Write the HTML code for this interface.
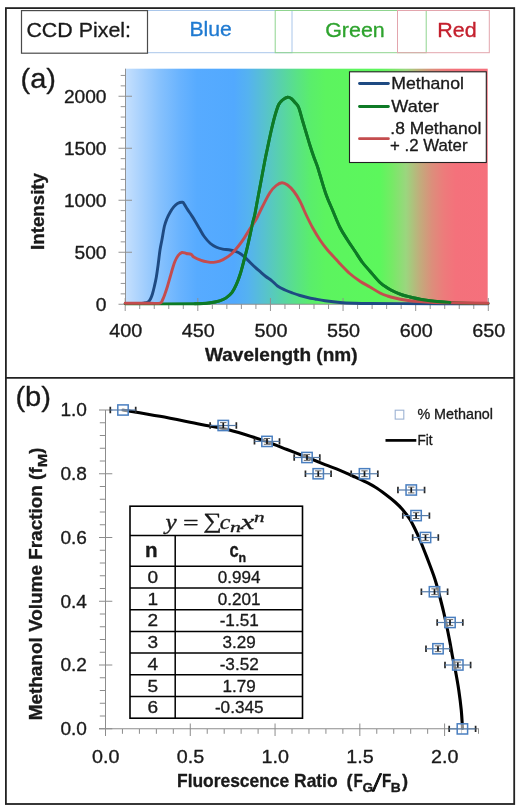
<!DOCTYPE html>
<html lang="en"><head><meta charset="utf-8"><title>Fluorescence figure</title>
<style>html,body{margin:0;padding:0;background:#fff;}svg{display:block;}text{font-family:"Liberation Sans", sans-serif;fill:#1a1a1a;stroke:#1a1a1a;stroke-width:.32px;stroke-linejoin:round;}</style>
</head><body>
<svg width="520" height="805" viewBox="0 0 520 805">
<defs><linearGradient id="spec" x1="125.2" x2="488.3" y1="0" y2="0" gradientUnits="userSpaceOnUse">
<stop offset="0.0000" stop-color="#c6e0fd"/>
<stop offset="0.0408" stop-color="#aad2fd"/>
<stop offset="0.0958" stop-color="#86c1fd"/>
<stop offset="0.1509" stop-color="#69b3fe"/>
<stop offset="0.1977" stop-color="#57abff"/>
<stop offset="0.2996" stop-color="#52a9fe"/>
<stop offset="0.3382" stop-color="#55b2f0"/>
<stop offset="0.3823" stop-color="#57c1d0"/>
<stop offset="0.4263" stop-color="#58d1ac"/>
<stop offset="0.4704" stop-color="#59e188"/>
<stop offset="0.5117" stop-color="#5aee6b"/>
<stop offset="0.5530" stop-color="#5cf45f"/>
<stop offset="0.7017" stop-color="#5cf75c"/>
<stop offset="0.7348" stop-color="#76ea66"/>
<stop offset="0.7733" stop-color="#9bd67e"/>
<stop offset="0.8119" stop-color="#c2ac7c"/>
<stop offset="0.8449" stop-color="#dc8e7b"/>
<stop offset="0.8780" stop-color="#ed7b7b"/>
<stop offset="0.9110" stop-color="#f4717b"/>
<stop offset="1.0000" stop-color="#f5707c"/>
</linearGradient></defs>
<rect x="0" y="0" width="520" height="805" fill="#fff"/>
<g fill="none" stroke-width="1">
<rect x="147.5" y="10.5" width="144.5" height="42.2" stroke="#a9c6ea"/>
<rect x="275.2" y="10.5" width="151" height="42.2" stroke="#8fd48f"/>
<rect x="397.5" y="10.5" width="91.8" height="42.2" stroke="#e3a5ad"/>
<rect x="21.5" y="10.6" width="126" height="42.6" stroke="#4a4a4a" stroke-width="1.2" fill="#fff"/>
</g>
<text x="26.4" y="36.6" font-size="21.1" fill="#111" textLength="104.6" lengthAdjust="spacingAndGlyphs">CCD Pixel:</text>
<text x="189.4" y="36.4" font-size="20.6" style="fill:#1f7ad1;stroke:#1f7ad1" textLength="42.4" lengthAdjust="spacingAndGlyphs">Blue</text>
<text x="325.2" y="36.6" font-size="20.6" style="fill:#2ea32e;stroke:#2ea32e" textLength="59.6" lengthAdjust="spacingAndGlyphs">Green</text>
<text x="437.2" y="36.6" font-size="20.6" style="fill:#c4202e;stroke:#c4202e" textLength="39.4" lengthAdjust="spacingAndGlyphs">Red</text>
<rect x="125.20" y="68.7" width="362.50" height="235.55" fill="url(#spec)"/>
<g stroke="#8e8e8e" stroke-width="0.95" fill="none">
<line x1="125.50" y1="68.7" x2="125.50" y2="304.25"/>
<line x1="125.20" y1="304.25" x2="488.30" y2="304.25"/>
<line x1="118.5" y1="304.25" x2="132" y2="304.25"/>
<line x1="120.7" y1="293.85" x2="125.5" y2="293.85"/>
<line x1="120.7" y1="283.45" x2="125.5" y2="283.45"/>
<line x1="120.7" y1="273.05" x2="125.5" y2="273.05"/>
<line x1="120.7" y1="262.65" x2="125.5" y2="262.65"/>
<line x1="118.5" y1="252.25" x2="132" y2="252.25"/>
<line x1="120.7" y1="241.85" x2="125.5" y2="241.85"/>
<line x1="120.7" y1="231.45" x2="125.5" y2="231.45"/>
<line x1="120.7" y1="221.05" x2="125.5" y2="221.05"/>
<line x1="120.7" y1="210.65" x2="125.5" y2="210.65"/>
<line x1="118.5" y1="200.25" x2="132" y2="200.25"/>
<line x1="120.7" y1="189.85" x2="125.5" y2="189.85"/>
<line x1="120.7" y1="179.45" x2="125.5" y2="179.45"/>
<line x1="120.7" y1="169.05" x2="125.5" y2="169.05"/>
<line x1="120.7" y1="158.65" x2="125.5" y2="158.65"/>
<line x1="118.5" y1="148.25" x2="132" y2="148.25"/>
<line x1="120.7" y1="137.85" x2="125.5" y2="137.85"/>
<line x1="120.7" y1="127.45" x2="125.5" y2="127.45"/>
<line x1="120.7" y1="117.05" x2="125.5" y2="117.05"/>
<line x1="120.7" y1="106.65" x2="125.5" y2="106.65"/>
<line x1="118.5" y1="96.25" x2="132" y2="96.25"/>
<line x1="120.7" y1="85.85" x2="125.5" y2="85.85"/>
<line x1="120.7" y1="75.45" x2="125.5" y2="75.45"/>
<line x1="125.20" y1="298" x2="125.20" y2="311"/>
<line x1="139.72" y1="304" x2="139.72" y2="309"/>
<line x1="154.25" y1="304" x2="154.25" y2="309"/>
<line x1="168.77" y1="304" x2="168.77" y2="309"/>
<line x1="183.30" y1="304" x2="183.30" y2="309"/>
<line x1="197.82" y1="298" x2="197.82" y2="311"/>
<line x1="212.34" y1="304" x2="212.34" y2="309"/>
<line x1="226.87" y1="304" x2="226.87" y2="309"/>
<line x1="241.39" y1="304" x2="241.39" y2="309"/>
<line x1="255.92" y1="304" x2="255.92" y2="309"/>
<line x1="270.44" y1="298" x2="270.44" y2="311"/>
<line x1="284.96" y1="304" x2="284.96" y2="309"/>
<line x1="299.49" y1="304" x2="299.49" y2="309"/>
<line x1="314.01" y1="304" x2="314.01" y2="309"/>
<line x1="328.54" y1="304" x2="328.54" y2="309"/>
<line x1="343.06" y1="298" x2="343.06" y2="311"/>
<line x1="357.58" y1="304" x2="357.58" y2="309"/>
<line x1="372.11" y1="304" x2="372.11" y2="309"/>
<line x1="386.63" y1="304" x2="386.63" y2="309"/>
<line x1="401.16" y1="304" x2="401.16" y2="309"/>
<line x1="415.68" y1="298" x2="415.68" y2="311"/>
<line x1="430.20" y1="304" x2="430.20" y2="309"/>
<line x1="444.73" y1="304" x2="444.73" y2="309"/>
<line x1="459.25" y1="304" x2="459.25" y2="309"/>
<line x1="473.78" y1="304" x2="473.78" y2="309"/>
<line x1="488.30" y1="298" x2="488.30" y2="311"/>
</g>
<g fill="none" stroke-width="2.9" stroke-linejoin="round" stroke-linecap="round">
<path stroke="#1e4a82" d="M125.20,303.60C127.33,303.58 134.91,303.58 138.00,303.50C141.09,303.42 142.07,303.37 143.75,303.10C145.43,302.83 146.96,302.62 148.10,301.90C149.24,301.17 149.87,300.11 150.60,298.75C151.33,297.39 151.87,295.83 152.50,293.75C153.13,291.67 153.78,288.96 154.40,286.25C155.03,283.54 155.63,281.04 156.25,277.50C156.87,273.96 157.47,269.58 158.10,265.00C158.72,260.42 159.37,254.17 160.00,250.00C160.63,245.83 161.17,243.96 161.90,240.00C162.63,236.04 163.57,229.79 164.40,226.25C165.23,222.71 165.97,221.04 166.90,218.75C167.83,216.46 168.86,214.47 170.00,212.50C171.14,210.53 172.50,208.40 173.75,206.90C175.00,205.40 176.04,204.28 177.50,203.50C178.96,202.72 181.35,202.10 182.50,202.25C183.65,202.40 183.57,203.21 184.40,204.40C185.23,205.59 186.36,207.63 187.50,209.40C188.64,211.17 190.00,213.08 191.25,215.00C192.50,216.92 193.61,218.60 195.00,220.90C196.39,223.20 198.07,226.20 199.60,228.80C201.13,231.40 202.40,234.05 204.20,236.50C206.00,238.95 208.35,241.70 210.40,243.50C212.45,245.30 214.45,246.35 216.50,247.30C218.55,248.25 220.65,248.78 222.70,249.20C224.75,249.62 226.75,249.47 228.80,249.80C230.85,250.13 232.93,250.47 235.00,251.20C237.07,251.93 239.15,252.80 241.20,254.20C243.25,255.60 245.25,257.67 247.30,259.60C249.35,261.53 251.45,263.87 253.50,265.80C255.55,267.73 257.55,269.42 259.60,271.20C261.65,272.98 263.75,274.90 265.80,276.50C267.85,278.10 269.95,279.22 271.90,280.80C273.85,282.38 275.32,284.47 277.50,286.00C279.68,287.53 282.50,288.83 285.00,290.00C287.50,291.17 290.00,292.08 292.50,293.00C295.00,293.92 297.50,294.75 300.00,295.50C302.50,296.25 305.00,296.92 307.50,297.50C310.00,298.08 312.08,298.46 315.00,299.00C317.92,299.54 320.83,300.17 325.00,300.75C329.17,301.33 335.00,302.08 340.00,302.50C345.00,302.92 350.00,303.08 355.00,303.25C360.00,303.42 362.50,303.44 370.00,303.50C377.50,303.56 388.33,303.57 400.00,303.60C411.67,303.63 425.33,303.68 440.00,303.70C454.67,303.72 480.00,303.70 488.00,303.70"/>
<path stroke="#0e7a26" d="M125.20,303.80C136.83,303.80 180.80,303.98 195.00,303.80C209.20,303.62 206.30,303.20 210.40,302.70C214.50,302.20 217.03,301.57 219.60,300.80C222.17,300.03 223.75,299.45 225.80,298.10C227.85,296.75 230.12,295.02 231.90,292.70C233.68,290.38 235.08,287.40 236.50,284.20C237.92,281.00 239.12,277.60 240.40,273.50C241.68,269.40 243.05,263.97 244.20,259.60C245.35,255.23 246.27,251.65 247.30,247.30C248.33,242.95 249.50,237.60 250.40,233.50C251.30,229.40 251.98,225.78 252.70,222.70C253.42,219.62 253.90,218.78 254.70,215.00C255.50,211.22 256.41,205.83 257.50,200.00C258.59,194.17 260.00,186.67 261.25,180.00C262.50,173.33 263.96,165.33 265.00,160.00C266.04,154.67 266.46,152.92 267.50,148.00C268.54,143.08 270.00,135.92 271.25,130.50C272.50,125.08 273.75,119.83 275.00,115.50C276.25,111.17 277.50,107.08 278.75,104.50C280.00,101.92 281.04,101.22 282.50,100.00C283.96,98.78 286.04,97.45 287.50,97.20C288.96,96.95 290.00,97.62 291.25,98.50C292.50,99.38 293.75,100.96 295.00,102.50C296.25,104.04 297.50,104.75 298.75,107.75C300.00,110.75 301.25,116.29 302.50,120.50C303.75,124.71 305.00,128.83 306.25,133.00C307.50,137.17 308.75,141.54 310.00,145.50C311.25,149.46 312.50,153.21 313.75,156.75C315.00,160.29 316.46,163.71 317.50,166.75C318.54,169.79 318.54,170.29 320.00,175.00C321.46,179.71 324.17,189.17 326.25,195.00C328.33,200.83 330.21,204.58 332.50,210.00C334.79,215.42 337.50,222.50 340.00,227.50C342.50,232.50 345.00,236.04 347.50,240.00C350.00,243.96 352.50,247.50 355.00,251.25C357.50,255.00 360.00,259.17 362.50,262.50C365.00,265.83 367.08,267.92 370.00,271.25C372.92,274.58 377.08,279.71 380.00,282.50C382.92,285.29 385.00,286.42 387.50,288.00C390.00,289.58 392.50,290.83 395.00,292.00C397.50,293.17 400.00,294.17 402.50,295.00C405.00,295.83 407.08,296.29 410.00,297.00C412.92,297.71 416.67,298.62 420.00,299.25C423.33,299.88 426.67,300.33 430.00,300.75C433.33,301.17 436.67,301.46 440.00,301.75C443.33,302.04 445.83,302.26 450.00,302.50C454.17,302.74 458.67,303.02 465.00,303.20C471.33,303.38 484.17,303.53 488.00,303.60"/>
<path stroke="#c44c4e" d="M125.20,303.30C129.33,303.30 144.20,303.33 150.00,303.30C155.80,303.27 157.92,303.65 160.00,303.10C162.08,302.55 161.67,301.56 162.50,300.00C163.33,298.44 164.17,296.04 165.00,293.75C165.83,291.46 166.67,288.96 167.50,286.25C168.33,283.54 169.17,280.42 170.00,277.50C170.83,274.58 171.67,271.46 172.50,268.75C173.33,266.04 174.07,263.44 175.00,261.25C175.93,259.06 176.95,257.06 178.10,255.60C179.25,254.14 180.54,252.85 181.90,252.50C183.26,252.15 184.69,253.18 186.25,253.50C187.81,253.82 190.00,253.82 191.25,254.40C192.50,254.98 192.09,256.00 193.75,257.00C195.41,258.00 198.94,259.58 201.20,260.40C203.46,261.22 205.25,261.57 207.30,261.90C209.35,262.23 211.45,262.52 213.50,262.40C215.55,262.28 217.55,261.92 219.60,261.20C221.65,260.48 223.75,259.38 225.80,258.10C227.85,256.82 229.85,255.43 231.90,253.50C233.95,251.57 236.05,249.07 238.10,246.50C240.15,243.93 242.15,241.17 244.20,238.10C246.25,235.03 248.35,231.32 250.40,228.10C252.45,224.88 254.48,222.40 256.50,218.80C258.52,215.20 260.25,210.88 262.50,206.50C264.75,202.12 267.71,196.00 270.00,192.50C272.29,189.00 274.25,187.13 276.25,185.50C278.25,183.87 280.12,182.78 282.00,182.70C283.88,182.62 285.54,183.57 287.50,185.00C289.46,186.43 291.67,188.54 293.75,191.25C295.83,193.96 297.92,197.29 300.00,201.25C302.08,205.21 304.17,210.62 306.25,215.00C308.33,219.38 310.21,223.33 312.50,227.50C314.79,231.67 317.50,236.25 320.00,240.00C322.50,243.75 324.79,246.75 327.50,250.00C330.21,253.25 334.17,257.21 336.25,259.50C338.33,261.79 337.71,261.38 340.00,263.75C342.29,266.12 346.67,270.83 350.00,273.75C353.33,276.67 356.67,279.04 360.00,281.25C363.33,283.46 366.67,285.04 370.00,287.00C373.33,288.96 377.08,291.50 380.00,293.00C382.92,294.50 385.00,295.17 387.50,296.00C390.00,296.83 392.08,297.33 395.00,298.00C397.92,298.67 401.67,299.46 405.00,300.00C408.33,300.54 410.83,300.88 415.00,301.25C419.17,301.62 424.17,302.00 430.00,302.25C435.83,302.50 440.33,302.58 450.00,302.75C459.67,302.92 481.67,303.17 488.00,303.25"/>
<path stroke="#0e7a26" d="M195.00,303.80C197.57,303.62 206.30,303.20 210.40,302.70C214.50,302.20 217.03,301.57 219.60,300.80C222.17,300.03 223.75,299.45 225.80,298.10C227.85,296.75 230.12,295.02 231.90,292.70C233.68,290.38 235.08,287.40 236.50,284.20C237.92,281.00 239.12,277.60 240.40,273.50C241.68,269.40 243.05,263.97 244.20,259.60C245.35,255.23 246.27,251.65 247.30,247.30C248.33,242.95 249.50,237.60 250.40,233.50C251.30,229.40 251.98,225.78 252.70,222.70C253.42,219.62 253.90,218.78 254.70,215.00C255.50,211.22 256.41,205.83 257.50,200.00C258.59,194.17 260.00,186.67 261.25,180.00C262.50,173.33 263.96,165.33 265.00,160.00C266.04,154.67 266.46,152.92 267.50,148.00C268.54,143.08 270.00,135.92 271.25,130.50C272.50,125.08 273.75,119.83 275.00,115.50C276.25,111.17 277.50,107.08 278.75,104.50C280.00,101.92 281.04,101.22 282.50,100.00C283.96,98.78 286.04,97.45 287.50,97.20C288.96,96.95 290.00,97.62 291.25,98.50C292.50,99.38 293.75,100.96 295.00,102.50C296.25,104.04 297.50,104.75 298.75,107.75C300.00,110.75 301.25,116.29 302.50,120.50C303.75,124.71 305.00,128.83 306.25,133.00C307.50,137.17 308.75,141.54 310.00,145.50C311.25,149.46 312.50,153.21 313.75,156.75C315.00,160.29 316.46,163.71 317.50,166.75C318.54,169.79 318.54,170.29 320.00,175.00C321.46,179.71 324.17,189.17 326.25,195.00C328.33,200.83 330.21,204.58 332.50,210.00C334.79,215.42 337.50,222.50 340.00,227.50C342.50,232.50 345.00,236.04 347.50,240.00C350.00,243.96 352.50,247.50 355.00,251.25C357.50,255.00 360.00,259.17 362.50,262.50C365.00,265.83 367.08,267.92 370.00,271.25C372.92,274.58 377.08,279.71 380.00,282.50C382.92,285.29 385.00,286.42 387.50,288.00C390.00,289.58 392.50,290.83 395.00,292.00C397.50,293.17 400.00,294.17 402.50,295.00C405.00,295.83 407.08,296.29 410.00,297.00C412.92,297.71 416.67,298.62 420.00,299.25C423.33,299.88 426.67,300.33 430.00,300.75C433.33,301.17 436.67,301.46 440.00,301.75C443.33,302.04 448.33,302.38 450.00,302.50"/>
</g>
<rect x="349.5" y="71.8" width="136.8" height="90.7" fill="#fff" stroke="#222" stroke-width="1.1"/>
<g stroke-width="2.8" fill="none" stroke-linecap="round"><line x1="359.5" y1="83.5" x2="388.4" y2="83.5" stroke="#1e4a82"/><line x1="359.5" y1="106.5" x2="388.4" y2="106.5" stroke="#0e7a26"/><line x1="359.5" y1="138.7" x2="388.4" y2="138.7" stroke="#c44c4e"/></g>
<text x="391.3" y="89" font-size="16.2" textLength="72.6" lengthAdjust="spacingAndGlyphs">Methanol</text>
<text x="391.3" y="112" font-size="16.2" textLength="47.5" lengthAdjust="spacingAndGlyphs">Water</text>
<text x="390.3" y="134.2" font-size="16.2" textLength="91" lengthAdjust="spacingAndGlyphs">.8 Methanol</text>
<text x="390" y="151" font-size="16.2" textLength="77.5" lengthAdjust="spacingAndGlyphs">+ .2 Water</text>
<text x="106.5" y="310.65" font-size="17.9" text-anchor="end" textLength="10.7" lengthAdjust="spacingAndGlyphs">0</text>
<text x="106.5" y="258.65" font-size="17.9" text-anchor="end" textLength="32.0" lengthAdjust="spacingAndGlyphs">500</text>
<text x="106.5" y="206.65" font-size="17.9" text-anchor="end" textLength="42.6" lengthAdjust="spacingAndGlyphs">1000</text>
<text x="106.5" y="154.65" font-size="17.9" text-anchor="end" textLength="42.6" lengthAdjust="spacingAndGlyphs">1500</text>
<text x="106.5" y="102.65" font-size="17.9" text-anchor="end" textLength="42.6" lengthAdjust="spacingAndGlyphs">2000</text>
<text x="125.70" y="337.2" font-size="17.9" text-anchor="middle" textLength="33" lengthAdjust="spacingAndGlyphs">400</text>
<text x="198.32" y="337.2" font-size="17.9" text-anchor="middle" textLength="33" lengthAdjust="spacingAndGlyphs">450</text>
<text x="270.94" y="337.2" font-size="17.9" text-anchor="middle" textLength="33" lengthAdjust="spacingAndGlyphs">500</text>
<text x="343.56" y="337.2" font-size="17.9" text-anchor="middle" textLength="33" lengthAdjust="spacingAndGlyphs">550</text>
<text x="416.18" y="337.2" font-size="17.9" text-anchor="middle" textLength="33" lengthAdjust="spacingAndGlyphs">600</text>
<text x="488.80" y="337.2" font-size="17.9" text-anchor="middle" textLength="33" lengthAdjust="spacingAndGlyphs">650</text>
<text x="205" y="361.3" font-size="18.2" font-weight="bold" textLength="152.6" lengthAdjust="spacingAndGlyphs" fill="#000">Wavelength (nm)</text>
<text transform="translate(44.2,250) rotate(-90)" font-size="17.6" font-weight="bold" textLength="77" lengthAdjust="spacingAndGlyphs" fill="#000">Intensity</text>
<text x="20.6" y="87.6" font-size="27.6" fill="#111" textLength="35.4" lengthAdjust="spacingAndGlyphs">(a)</text>
<rect x="5.9" y="8.1" width="508.3" height="795.9" fill="none" stroke="#222" stroke-width="1.8"/>
<line x1="5.9" y1="377.9" x2="514.2" y2="377.9" stroke="#222" stroke-width="1.6"/>
<g stroke="#8c8c8c" stroke-width="1" fill="none">
<line x1="105.50" y1="410.00" x2="105.50" y2="736"/>
<line x1="99" y1="728.75" x2="479.01" y2="728.75"/>
<line x1="99" y1="728.75" x2="112.3" y2="728.75"/>
<line x1="99.8" y1="716.00" x2="105.5" y2="716.00"/>
<line x1="99.8" y1="703.25" x2="105.5" y2="703.25"/>
<line x1="99.8" y1="690.50" x2="105.5" y2="690.50"/>
<line x1="99.8" y1="677.75" x2="105.5" y2="677.75"/>
<line x1="99" y1="665.00" x2="112.3" y2="665.00"/>
<line x1="99.8" y1="652.25" x2="105.5" y2="652.25"/>
<line x1="99.8" y1="639.50" x2="105.5" y2="639.50"/>
<line x1="99.8" y1="626.75" x2="105.5" y2="626.75"/>
<line x1="99.8" y1="614.00" x2="105.5" y2="614.00"/>
<line x1="99" y1="601.25" x2="112.3" y2="601.25"/>
<line x1="99.8" y1="588.50" x2="105.5" y2="588.50"/>
<line x1="99.8" y1="575.75" x2="105.5" y2="575.75"/>
<line x1="99.8" y1="563.00" x2="105.5" y2="563.00"/>
<line x1="99.8" y1="550.25" x2="105.5" y2="550.25"/>
<line x1="99" y1="537.50" x2="112.3" y2="537.50"/>
<line x1="99.8" y1="524.75" x2="105.5" y2="524.75"/>
<line x1="99.8" y1="512.00" x2="105.5" y2="512.00"/>
<line x1="99.8" y1="499.25" x2="105.5" y2="499.25"/>
<line x1="99.8" y1="486.50" x2="105.5" y2="486.50"/>
<line x1="99" y1="473.75" x2="112.3" y2="473.75"/>
<line x1="99.8" y1="461.00" x2="105.5" y2="461.00"/>
<line x1="99.8" y1="448.25" x2="105.5" y2="448.25"/>
<line x1="99.8" y1="435.50" x2="105.5" y2="435.50"/>
<line x1="99.8" y1="422.75" x2="105.5" y2="422.75"/>
<line x1="99" y1="410.00" x2="112.3" y2="410.00"/>
<line x1="105.50" y1="723.5" x2="105.50" y2="736"/>
<line x1="122.45" y1="729" x2="122.45" y2="733.8"/>
<line x1="139.41" y1="729" x2="139.41" y2="733.8"/>
<line x1="156.37" y1="729" x2="156.37" y2="733.8"/>
<line x1="173.32" y1="729" x2="173.32" y2="733.8"/>
<line x1="190.28" y1="723.5" x2="190.28" y2="736"/>
<line x1="207.23" y1="729" x2="207.23" y2="733.8"/>
<line x1="224.19" y1="729" x2="224.19" y2="733.8"/>
<line x1="241.14" y1="729" x2="241.14" y2="733.8"/>
<line x1="258.10" y1="729" x2="258.10" y2="733.8"/>
<line x1="275.05" y1="723.5" x2="275.05" y2="736"/>
<line x1="292.00" y1="729" x2="292.00" y2="733.8"/>
<line x1="308.96" y1="729" x2="308.96" y2="733.8"/>
<line x1="325.92" y1="729" x2="325.92" y2="733.8"/>
<line x1="342.87" y1="729" x2="342.87" y2="733.8"/>
<line x1="359.83" y1="723.5" x2="359.83" y2="736"/>
<line x1="376.78" y1="729" x2="376.78" y2="733.8"/>
<line x1="393.74" y1="729" x2="393.74" y2="733.8"/>
<line x1="410.69" y1="729" x2="410.69" y2="733.8"/>
<line x1="427.65" y1="729" x2="427.65" y2="733.8"/>
<line x1="444.60" y1="723.5" x2="444.60" y2="736"/>
<line x1="461.56" y1="729" x2="461.56" y2="733.8"/>
<line x1="478.51" y1="729" x2="478.51" y2="733.8"/>
</g>
<text x="86.9" y="735.05" font-size="17.9" text-anchor="end" textLength="26.5" lengthAdjust="spacingAndGlyphs">0.0</text>
<text x="86.9" y="671.30" font-size="17.9" text-anchor="end" textLength="26.5" lengthAdjust="spacingAndGlyphs">0.2</text>
<text x="86.9" y="607.55" font-size="17.9" text-anchor="end" textLength="26.5" lengthAdjust="spacingAndGlyphs">0.4</text>
<text x="86.9" y="543.80" font-size="17.9" text-anchor="end" textLength="26.5" lengthAdjust="spacingAndGlyphs">0.6</text>
<text x="86.9" y="480.05" font-size="17.9" text-anchor="end" textLength="26.5" lengthAdjust="spacingAndGlyphs">0.8</text>
<text x="86.9" y="416.30" font-size="17.9" text-anchor="end" textLength="26.5" lengthAdjust="spacingAndGlyphs">1.0</text>
<text x="105.70" y="762.6" font-size="17.9" text-anchor="middle" textLength="27.4" lengthAdjust="spacingAndGlyphs">0.0</text>
<text x="190.47" y="762.6" font-size="17.9" text-anchor="middle" textLength="27.4" lengthAdjust="spacingAndGlyphs">0.5</text>
<text x="275.25" y="762.6" font-size="17.9" text-anchor="middle" textLength="27.4" lengthAdjust="spacingAndGlyphs">1.0</text>
<text x="360.03" y="762.6" font-size="17.9" text-anchor="middle" textLength="27.4" lengthAdjust="spacingAndGlyphs">1.5</text>
<text x="444.80" y="762.6" font-size="17.9" text-anchor="middle" textLength="27.4" lengthAdjust="spacingAndGlyphs">2.0</text>
<path d="M123.00,410.00C129.17,411.05 147.17,413.93 160.00,416.30C172.83,418.67 189.46,422.17 200.00,424.20C210.54,426.23 215.75,426.78 223.25,428.50C230.75,430.22 237.71,432.28 245.00,434.50C252.29,436.72 260.00,439.30 267.00,441.80C274.00,444.30 280.33,446.92 287.00,449.50C293.67,452.08 300.67,454.78 307.00,457.30C313.33,459.82 319.50,462.42 325.00,464.60C330.50,466.78 334.93,468.30 340.00,470.40C345.07,472.50 351.32,475.37 355.40,477.20C359.48,479.03 361.23,479.77 364.50,481.40C367.77,483.03 371.58,484.90 375.00,487.00C378.42,489.10 381.67,491.50 385.00,494.00C388.33,496.50 392.08,499.42 395.00,502.00C397.92,504.58 400.00,506.58 402.50,509.50C405.00,512.42 407.92,516.25 410.00,519.50C412.08,522.75 413.33,525.58 415.00,529.00C416.67,532.42 418.33,536.08 420.00,540.00C421.67,543.92 423.33,548.25 425.00,552.50C426.67,556.75 428.58,561.75 430.00,565.50C431.42,569.25 432.46,572.00 433.50,575.00C434.54,578.00 435.17,579.75 436.25,583.50C437.33,587.25 438.75,592.67 440.00,597.50C441.25,602.33 442.58,607.50 443.75,612.50C444.92,617.50 445.96,622.50 447.00,627.50C448.04,632.50 449.08,637.67 450.00,642.50C450.92,647.33 451.58,651.75 452.50,656.50C453.42,661.25 454.46,665.42 455.50,671.00C456.54,676.58 457.79,683.50 458.75,690.00C459.71,696.50 460.62,703.58 461.25,710.00C461.88,716.42 462.29,725.42 462.50,728.50" fill="none" stroke="#000" stroke-width="3.1" stroke-linecap="round" stroke-linejoin="round"/>
<g fill="none">
<path stroke="#262626" stroke-width="1.7" d="M110.30,406.80v6.4M135.70,406.80v6.4"/>
<path stroke="#262626" stroke-width="1.7" d="M210.15,422.30v6.4M236.35,422.30v6.4"/>
<path stroke="#262626" stroke-width="1.7" d="M254.50,438.20v6.4M279.50,438.20v6.4"/>
<path stroke="#262626" stroke-width="1.7" d="M294.20,454.30v6.4M319.80,454.30v6.4"/>
<path stroke="#262626" stroke-width="1.7" d="M305.45,470.55v6.4M331.05,470.55v6.4"/>
<path stroke="#262626" stroke-width="1.7" d="M351.20,470.55v6.4M377.80,470.55v6.4"/>
<path stroke="#262626" stroke-width="1.7" d="M397.95,486.80v6.4M424.55,486.80v6.4"/>
<path stroke="#262626" stroke-width="1.7" d="M402.80,512.40v6.4M429.40,512.40v6.4"/>
<path stroke="#262626" stroke-width="1.7" d="M412.70,534.30v6.4M438.30,534.30v6.4"/>
<path stroke="#262626" stroke-width="1.7" d="M421.40,588.55v6.4M447.60,588.55v6.4"/>
<path stroke="#262626" stroke-width="1.7" d="M437.20,619.30v6.4M462.80,619.30v6.4"/>
<path stroke="#262626" stroke-width="1.7" d="M426.00,645.55v6.4M450.00,645.55v6.4"/>
<path stroke="#262626" stroke-width="1.7" d="M445.00,661.80v6.4M470.60,661.80v6.4"/>
<path stroke="#262626" stroke-width="1.7" d="M449.20,725.70v6.4M475.60,725.70v6.4"/>
</g>
<g stroke="#4a7fc0" stroke-width="1.5" fill="#ffffff" fill-opacity="0.55">
<rect x="117.80" y="404.90" width="10.4" height="10.2"/>
<rect x="218.05" y="420.40" width="10.4" height="10.2"/>
<rect x="261.80" y="436.30" width="10.4" height="10.2"/>
<rect x="301.80" y="452.40" width="10.4" height="10.2"/>
<rect x="313.05" y="468.65" width="10.4" height="10.2"/>
<rect x="359.30" y="468.65" width="10.4" height="10.2"/>
<rect x="406.05" y="484.90" width="10.4" height="10.2"/>
<rect x="410.90" y="510.50" width="10.4" height="10.2"/>
<rect x="420.30" y="532.40" width="10.4" height="10.2"/>
<rect x="429.30" y="586.65" width="10.4" height="10.2"/>
<rect x="444.80" y="617.40" width="10.4" height="10.2"/>
<rect x="432.80" y="643.65" width="10.4" height="10.2"/>
<rect x="452.60" y="659.90" width="10.4" height="10.2"/>
<rect x="457.20" y="723.80" width="10.4" height="10.2"/>
</g>
<g fill="none">
<path stroke="#557ba8" stroke-width="1.2" d="M110.30,410.00H135.70"/>
<path stroke="#557ba8" stroke-width="1.2" d="M210.15,425.50H236.35"/>
<path stroke="#6a6a6a" stroke-width="1" d="M220.05,422.60h6.4M220.05,428.40h6.4"/>
<path stroke="#161616" stroke-width="1.7" d="M223.25,422.90V428.10"/>
<path stroke="#557ba8" stroke-width="1.2" d="M254.50,441.40H279.50"/>
<path stroke="#6a6a6a" stroke-width="1" d="M263.80,438.50h6.4M263.80,444.30h6.4"/>
<path stroke="#161616" stroke-width="1.7" d="M267.00,438.80V444.00"/>
<path stroke="#557ba8" stroke-width="1.2" d="M294.20,457.50H319.80"/>
<path stroke="#6a6a6a" stroke-width="1" d="M303.80,454.60h6.4M303.80,460.40h6.4"/>
<path stroke="#161616" stroke-width="1.7" d="M307.00,454.90V460.10"/>
<path stroke="#557ba8" stroke-width="1.2" d="M305.45,473.75H331.05"/>
<path stroke="#6a6a6a" stroke-width="1" d="M315.05,470.85h6.4M315.05,476.65h6.4"/>
<path stroke="#161616" stroke-width="1.7" d="M318.25,471.15V476.35"/>
<path stroke="#557ba8" stroke-width="1.2" d="M351.20,473.75H377.80"/>
<path stroke="#6a6a6a" stroke-width="1" d="M361.30,470.85h6.4M361.30,476.65h6.4"/>
<path stroke="#161616" stroke-width="1.7" d="M364.50,471.15V476.35"/>
<path stroke="#557ba8" stroke-width="1.2" d="M397.95,490.00H424.55"/>
<path stroke="#6a6a6a" stroke-width="1" d="M408.05,487.10h6.4M408.05,492.90h6.4"/>
<path stroke="#161616" stroke-width="1.7" d="M411.25,487.40V492.60"/>
<path stroke="#557ba8" stroke-width="1.2" d="M402.80,515.60H429.40"/>
<path stroke="#6a6a6a" stroke-width="1" d="M412.90,512.70h6.4M412.90,518.50h6.4"/>
<path stroke="#161616" stroke-width="1.7" d="M416.10,513.00V518.20"/>
<path stroke="#557ba8" stroke-width="1.2" d="M412.70,537.50H438.30"/>
<path stroke="#6a6a6a" stroke-width="1" d="M422.30,534.60h6.4M422.30,540.40h6.4"/>
<path stroke="#161616" stroke-width="1.7" d="M425.50,534.90V540.10"/>
<path stroke="#557ba8" stroke-width="1.2" d="M421.40,591.75H447.60"/>
<path stroke="#6a6a6a" stroke-width="1" d="M431.30,588.85h6.4M431.30,594.65h6.4"/>
<path stroke="#161616" stroke-width="1.7" d="M434.50,589.15V594.35"/>
<path stroke="#557ba8" stroke-width="1.2" d="M437.20,622.50H462.80"/>
<path stroke="#6a6a6a" stroke-width="1" d="M446.80,619.60h6.4M446.80,625.40h6.4"/>
<path stroke="#161616" stroke-width="1.7" d="M450.00,619.90V625.10"/>
<path stroke="#557ba8" stroke-width="1.2" d="M426.00,648.75H450.00"/>
<path stroke="#6a6a6a" stroke-width="1" d="M434.80,645.85h6.4M434.80,651.65h6.4"/>
<path stroke="#161616" stroke-width="1.7" d="M438.00,646.15V651.35"/>
<path stroke="#557ba8" stroke-width="1.2" d="M445.00,665.00H470.60"/>
<path stroke="#6a6a6a" stroke-width="1" d="M454.60,662.10h6.4M454.60,667.90h6.4"/>
<path stroke="#161616" stroke-width="1.7" d="M457.80,662.40V667.60"/>
<path stroke="#557ba8" stroke-width="1.2" d="M449.20,728.90H475.60"/>
</g>
<rect x="395.2" y="410.2" width="8.6" height="8.9" fill="none" stroke="#9db3d3" stroke-width="1.1"/>
<text x="417.4" y="418.5" font-size="13.8" textLength="75.6" lengthAdjust="spacingAndGlyphs">% Methanol</text>
<line x1="385.5" y1="440.4" x2="416.3" y2="440.4" stroke="#000" stroke-width="2.7"/>
<text x="417.4" y="444.5" font-size="13.8" textLength="15" lengthAdjust="spacingAndGlyphs">Fit</text>
<text x="15.4" y="406.2" font-size="27.6" fill="#111" textLength="35.6" lengthAdjust="spacingAndGlyphs">(b)</text>
<text transform="translate(42.3,720.3) rotate(-90)" font-size="18" font-weight="bold" fill="#000"><tspan textLength="253" lengthAdjust="spacingAndGlyphs">Methanol Volume Fraction (f</tspan><tspan dy="4.6" font-size="13" textLength="13.5" lengthAdjust="spacingAndGlyphs">M</tspan><tspan dy="-4.6" font-size="18">)</tspan></text>
<g font-weight="bold" font-size="18.2" style="fill:#000">
<text x="177" y="787" fill="#000" textLength="160.6" lengthAdjust="spacingAndGlyphs">Fluorescence Ratio</text>
<text x="346.4" y="787" fill="#000">(</text>
<text x="353.5" y="787" fill="#000" textLength="9.3" lengthAdjust="spacingAndGlyphs">F</text>
<text x="362.4" y="792.4" fill="#000" font-size="13.3" textLength="10.6" lengthAdjust="spacingAndGlyphs">G</text>
<text transform="translate(372.3,790.6) skewX(-9)" fill="#000" font-size="24" font-weight="normal" style="stroke:#000;stroke-width:.9px">/</text>
<text x="382.1" y="787" fill="#000" textLength="9.3" lengthAdjust="spacingAndGlyphs">F</text>
<text x="390.7" y="792.4" fill="#000" font-size="13.3" textLength="10" lengthAdjust="spacingAndGlyphs">B</text>
<text x="402" y="787" fill="#000">)</text>
</g>
<rect x="130" y="506.2" width="172.5" height="212" fill="#fff" stroke="#000" stroke-width="1.6"/>
<g stroke="#000" stroke-width="1.5">
<line x1="130" y1="535.50" x2="302.5" y2="535.50"/>
<line x1="130" y1="566.25" x2="302.5" y2="566.25"/>
<line x1="130" y1="587.96" x2="302.5" y2="587.96"/>
<line x1="130" y1="609.67" x2="302.5" y2="609.67"/>
<line x1="130" y1="631.39" x2="302.5" y2="631.39"/>
<line x1="130" y1="653.10" x2="302.5" y2="653.10"/>
<line x1="130" y1="674.80" x2="302.5" y2="674.80"/>
<line x1="130" y1="696.50" x2="302.5" y2="696.50"/>
<line x1="175.2" y1="535.5" x2="175.2" y2="718.2"/>
</g>
<g font-family='Liberation Serif' font-style="italic" font-size="20.5" style="font-family:'Liberation Serif',serif">
<text x="165.6" y="528.8" style="font-family:'Liberation Serif',serif" textLength="11.2" lengthAdjust="spacingAndGlyphs">y</text>
<text x="182.9" y="529.8" font-style="normal" style="font-family:'Liberation Serif',serif" textLength="15.6" lengthAdjust="spacingAndGlyphs">=</text>
<text x="203.2" y="528.3" font-style="normal" font-size="22" style="font-family:'Liberation Serif','DejaVu Serif',serif" textLength="18.5" lengthAdjust="spacingAndGlyphs">∑</text>
<text x="219.8" y="528.8" style="font-family:'Liberation Serif',serif" textLength="10.6" lengthAdjust="spacingAndGlyphs">c</text>
<text x="229.9" y="532.3" font-size="15" style="font-family:'Liberation Serif',serif" textLength="11" lengthAdjust="spacingAndGlyphs">n</text>
<text x="240.6" y="528.8" style="font-family:'Liberation Serif',serif" textLength="13.8" lengthAdjust="spacingAndGlyphs">x</text>
<text x="254" y="522.3" font-size="15" style="font-family:'Liberation Serif',serif" textLength="10.6" lengthAdjust="spacingAndGlyphs">n</text>
</g>
<text x="151.3" y="557.2" font-size="20" font-weight="bold" text-anchor="middle" fill="#000" textLength="12.6" lengthAdjust="spacingAndGlyphs">n</text>
<text x="229.4" y="557.2" font-size="20" font-weight="bold" fill="#000"><tspan textLength="9.2" lengthAdjust="spacingAndGlyphs">c</tspan><tspan dy="5" font-size="13" textLength="7.6" lengthAdjust="spacingAndGlyphs">n</tspan></text>
<text x="152.9" y="582.95" font-size="16.6" text-anchor="middle" textLength="10.6" lengthAdjust="spacingAndGlyphs">0</text>
<text x="239.2" y="582.95" font-size="16.6" text-anchor="middle" textLength="42.8" lengthAdjust="spacingAndGlyphs">0.994</text>
<text x="152.9" y="604.66" font-size="16.6" text-anchor="middle" textLength="10.6" lengthAdjust="spacingAndGlyphs">1</text>
<text x="239.2" y="604.66" font-size="16.6" text-anchor="middle" textLength="42.8" lengthAdjust="spacingAndGlyphs">0.201</text>
<text x="152.9" y="626.37" font-size="16.6" text-anchor="middle" textLength="10.6" lengthAdjust="spacingAndGlyphs">2</text>
<text x="239.2" y="626.37" font-size="16.6" text-anchor="middle" textLength="39.1" lengthAdjust="spacingAndGlyphs">-1.51</text>
<text x="152.9" y="648.09" font-size="16.6" text-anchor="middle" textLength="10.6" lengthAdjust="spacingAndGlyphs">3</text>
<text x="239.2" y="648.09" font-size="16.6" text-anchor="middle" textLength="33.2" lengthAdjust="spacingAndGlyphs">3.29</text>
<text x="152.9" y="669.80" font-size="16.6" text-anchor="middle" textLength="10.6" lengthAdjust="spacingAndGlyphs">4</text>
<text x="239.2" y="669.80" font-size="16.6" text-anchor="middle" textLength="39.1" lengthAdjust="spacingAndGlyphs">-3.52</text>
<text x="152.9" y="691.50" font-size="16.6" text-anchor="middle" textLength="10.6" lengthAdjust="spacingAndGlyphs">5</text>
<text x="239.2" y="691.50" font-size="16.6" text-anchor="middle" textLength="33.2" lengthAdjust="spacingAndGlyphs">1.79</text>
<text x="152.9" y="713.20" font-size="16.6" text-anchor="middle" textLength="10.6" lengthAdjust="spacingAndGlyphs">6</text>
<text x="239.2" y="713.20" font-size="16.6" text-anchor="middle" textLength="48.6" lengthAdjust="spacingAndGlyphs">-0.345</text>
</svg></body></html>
